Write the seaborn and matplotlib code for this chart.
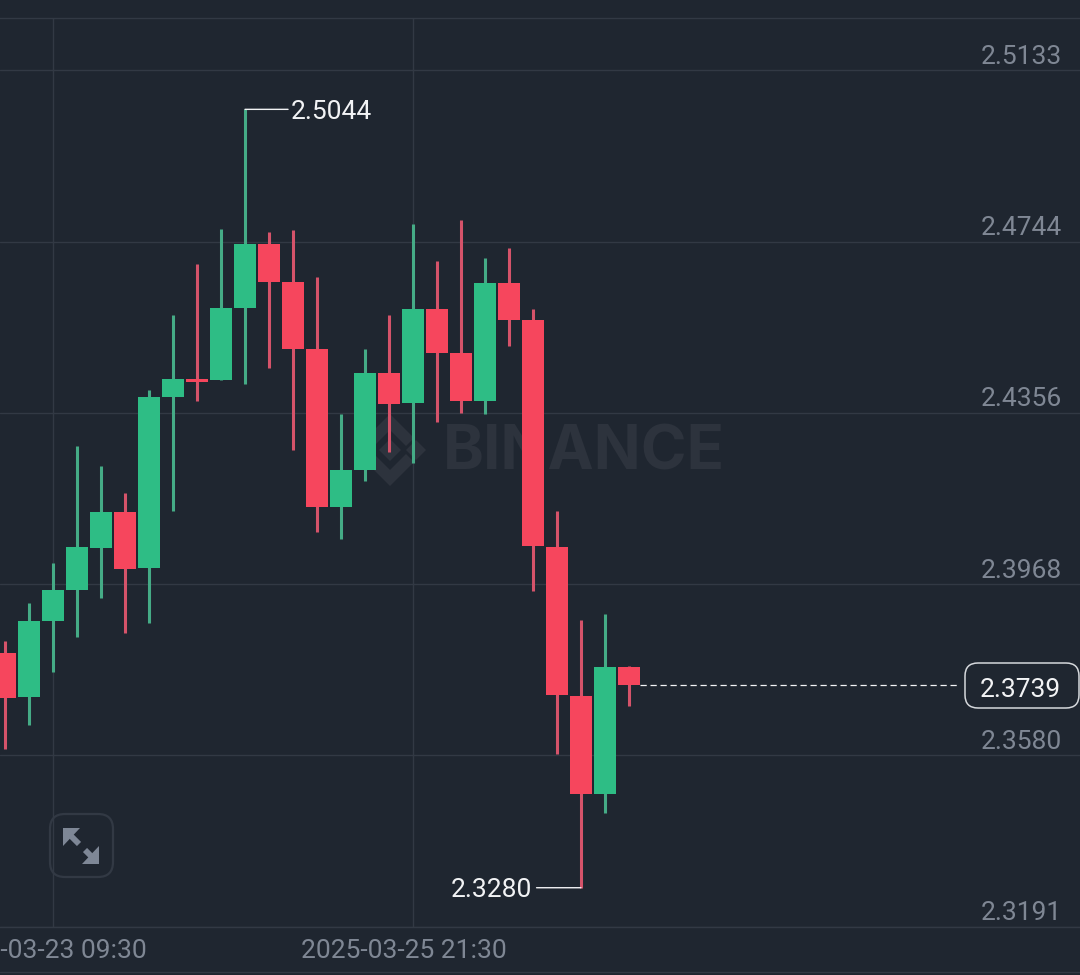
import matplotlib
matplotlib.use("Agg")
import numpy as np
import pandas as pd
import seaborn as sns
import matplotlib.pyplot as plt
from matplotlib.lines import Line2D
from matplotlib.patches import FancyBboxPatch, Polygon
from matplotlib.transforms import Affine2D, IdentityTransform

# 4h candles
opens = [2.3812, 2.3712, 2.3884, 2.3955, 2.4050, 2.4131, 2.4005, 2.4392, 2.4433,
         2.4431, 2.4594, 2.4739, 2.4653, 2.4501, 2.4143, 2.4227, 2.4446, 2.4378,
         2.4591, 2.4492, 2.4383, 2.4650, 2.4566, 2.4052, 2.3714, 2.3492, 2.3780]
highs = [2.3839, 2.3925, 2.4016, 2.4281, 2.4236, 2.4175, 2.4408, 2.4578, 2.4693,
         2.4773, 2.5044, 2.4766, 2.4770, 2.4664, 2.4354, 2.4501, 2.4578, 2.4784,
         2.4700, 2.4793, 2.4707, 2.4730, 2.4591, 2.4134, 2.3887, 2.3900, 2.3782]
lows = [2.3594, 2.3649, 2.3769, 2.3848, 2.3937, 2.3857, 2.3880, 2.4134, 2.4383,
        2.4431, 2.4422, 2.4458, 2.4272, 2.4086, 2.4070, 2.4202, 2.4267, 2.4243,
        2.4335, 2.4356, 2.4354, 2.4508, 2.3952, 2.3583, 2.3280, 2.3449, 2.3692]
closes = [2.3710, 2.3884, 2.3955, 2.4052, 2.4131, 2.4002, 2.4392, 2.4433, 2.4427,
          2.4594, 2.4739, 2.4653, 2.4501, 2.4143, 2.4227, 2.4446, 2.4376, 2.4591,
          2.4492, 2.4383, 2.4650, 2.4566, 2.4054, 2.3717, 2.3492, 2.3780, 2.3739]

price_ticks = [2.5133, 2.4744, 2.4356, 2.3968, 2.3580, 2.3191]
date_tick_pos = [2, 17]
date_tick_labels = ['2025-03-23 09:30', '2025-03-25 21:30']
last_price = 2.3739

BG = '#1F2630'
GRID = '#323944'
MUTED = '#7F8794'
GREEN = '#2EBD85'
RED = '#F6465D'
GREEN_WICK = '#45AB86'
RED_WICK = '#D5536A'
TEXT = '#F2F3F5'
FONT_SIZE = 19.0

sns.set_theme(style='dark', rc={'figure.facecolor': BG, 'axes.facecolor': BG})
plt.rcParams['font.family'] = ['Roboto', 'DejaVu Sans']

df = pd.DataFrame({'idx': np.arange(len(opens)), 'open': opens, 'high': highs,
                   'low': lows, 'close': closes})
df['direction'] = np.where(df['close'] > df['open'], 'up', 'down')
df['body'] = (df['close'] - df['open']).abs()
df['base'] = df[['open', 'close']].min(axis=1)
wicks = df.melt(id_vars=['idx', 'direction'], value_vars=['high', 'low'], value_name='price')

W, H = 1080, 975
px_per_candle = 24
fig = plt.figure(figsize=(W / 100, H / 100), dpi=100)
ax = fig.add_axes([0, (H - 927) / H, 1, (927 - 18) / H])
ax.patch.set_alpha(0)

sns.lineplot(data=wicks, x='idx', y='price', units='idx', estimator=None, hue='direction',
             palette={'up': GREEN_WICK, 'down': RED_WICK}, lw=2.2, legend=False,
             solid_capstyle='butt', ax=ax, zorder=3)
for side, col in [('up', GREEN), ('down', RED)]:
    sub = df[df['direction'] == side]
    sns.barplot(data=sub, x='idx', y='body', bottom=sub['base'].values, native_scale=True,
                color=col, saturation=1, width=0.89, errorbar=None, linewidth=0, ax=ax, zorder=4)

ax.set_xlim(-5 / px_per_candle, (W - 5) / px_per_candle)
ax.set_ylim(2.3191, 2.5251)
ax.set_xlabel('')
ax.set_ylabel('')
ax.set_xticks(date_tick_pos, date_tick_labels)
ax.set_yticks(price_ticks, [f'{p:.4f}' for p in price_ticks])
ax.yaxis.tick_right()
ax.grid(True, color=GRID, lw=1.0)
ax.set_axisbelow(True)
ax.tick_params(axis='y', length=0, pad=-14.0, labelsize=FONT_SIZE, labelcolor=MUTED)
ax.tick_params(axis='x', length=0, pad=8.5, labelsize=FONT_SIZE, labelcolor=MUTED)
for tick in ax.yaxis.get_major_ticks():
    tick.label2.set_ha('right')
    tick.label2.set_transform(tick.label2.get_transform() + Affine2D().translate(1.5, 16))
for tick in ax.xaxis.get_major_ticks():
    tick.label1.set_transform(tick.label1.get_transform() + Affine2D().translate(-9, 0))
for side in ['left', 'right']:
    ax.spines[side].set_visible(False)
for side in ['top', 'bottom']:
    ax.spines[side].set_color(GRID)
    ax.spines[side].set_linewidth(1.0)
fig.add_artist(Line2D([0, 1], [(H - 972) / H] * 2, color=GRID, lw=1.0))


def px(x, y):
    # picture pixels, y from the top
    return (x, H - y)


# watermark, sits under the axes
wm = '#2D333D'
fig.text(443 / W, (H - 470) / H, 'BINANCE', color=wm, fontsize=44.5, fontweight='bold',
         family='Inter', va='baseline', ha='left', zorder=-1)
for pts in ([(390, 414), (414, 438), (406, 446), (390, 430), (374, 446), (366, 438)],
            [(390, 486), (414, 462), (406, 454), (390, 470), (374, 454), (366, 462)],
            [(390, 439), (401, 450), (390, 461), (379, 450)],
            [(416, 440), (426, 450), (416, 460), (406, 450)],
            [(364, 440), (374, 450), (364, 460), (354, 450)]):
    fig.add_artist(Polygon([px(*p) for p in pts], closed=True, color=wm, lw=0,
                           transform=IdentityTransform(), zorder=-1))

# high / low labels
for value, i, line_dx, text_dx, ha in [(2.5044, 10, 31, 33, 'left'), (2.3280, 24, -32, -35, 'right')]:
    ax.annotate('', xy=(i, value), xytext=(line_dx, 0), textcoords='offset points', zorder=6,
                arrowprops=dict(arrowstyle='-', color=TEXT, lw=1, shrinkA=0, shrinkB=0))
    ax.annotate(f'{value:.4f}', xy=(i, value), xytext=(text_dx, 0), textcoords='offset points',
                ha=ha, va='center_baseline', color=TEXT, fontsize=FONT_SIZE, zorder=6)

# current price
ax.plot([640 / W, 960 / W], [last_price, last_price], transform=ax.get_yaxis_transform(),
        color=TEXT, lw=0.9, ls=(0, (5, 3)), zorder=5)
fig.add_artist(FancyBboxPatch(px(965, 708), 114, 45, boxstyle='round,pad=0,rounding_size=13',
                              fc=BG, ec='#D5D8DC', lw=1.1, transform=IdentityTransform(), zorder=5))
fig.text(1020.5 / W, (H - 690) / H, f'{last_price:.4f}', color=TEXT, fontsize=FONT_SIZE,
         ha='center', va='center', zorder=6)

# expand icon
fig.add_artist(FancyBboxPatch(px(50, 877), 63, 63, boxstyle='round,pad=0,rounding_size=15',
                              fc='none', ec=GRID, lw=1.6, transform=IdentityTransform()))
icon = '#7E8796'
fig.add_artist(Polygon([px(63, 828), px(80, 828), px(63, 846)], color=icon, lw=0,
                       transform=IdentityTransform()))
fig.add_artist(Polygon([px(99, 864), px(99, 846), px(82, 864)], color=icon, lw=0,
                       transform=IdentityTransform()))
for a, b in [((70, 835), (79, 844)), ((85, 850), (93, 858))]:
    xs, ys = zip(px(*a), px(*b))
    fig.add_artist(Line2D(xs, ys, color=icon, lw=4.2, solid_capstyle='butt',
                          transform=IdentityTransform()))

fig.savefig('out.png', dpi=100, facecolor=BG)
